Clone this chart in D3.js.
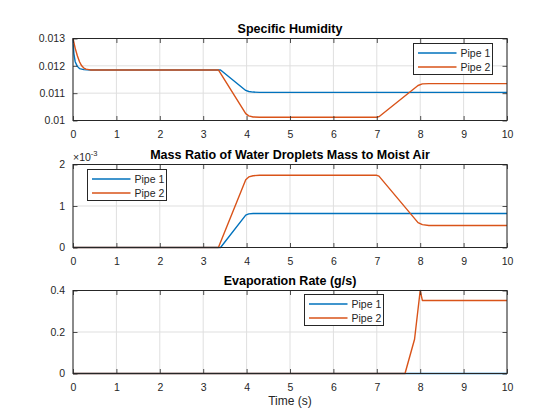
<!DOCTYPE html>
<html>
<head>
<meta charset="utf-8">
<script src="https://cdn.jsdelivr.net/npm/d3@7"></script>
<style>
  body { margin: 0; background: #fff; }
  svg { font-family: "Liberation Sans", Arial, Helvetica, sans-serif; }
</style>
</head>
<body>
<svg id="fig" width="560" height="420"></svg>
<script>
// Series names
var seriesNames = ["Pipe 1", "Pipe 2"];

// Specific humidity
var tHum1 = [0, 0.02, 0.05, 0.1, 0.15, 0.25, 0.4, 3.4, 3.98, 4.05, 4.15, 4.3, 10];
var hum1 = [0.013, 0.01245, 0.01215, 0.01198, 0.0119, 0.01186, 0.01185, 0.01185, 0.0111, 0.01106, 0.01104, 0.01103, 0.01103];
var tHum2 = [0, 0.05, 0.1, 0.15, 0.2, 0.25, 0.3, 0.4, 3.35, 3.98, 4.05, 4.15, 4.3, 7.0, 7.05, 7.95, 8.05, 8.2, 10];
var hum2 = [0.013, 0.01265, 0.01237, 0.01215, 0.012, 0.01192, 0.01188, 0.01185, 0.01185, 0.01025, 0.01017, 0.01013, 0.01012, 0.01012, 0.01014, 0.01128, 0.01134, 0.01135, 0.01135];

// Mass ratio of water droplets
var tMr1 = [0, 3.4, 3.98, 4.05, 4.15, 10];
var mr1 = [0, 0, 0.00078, 0.00081, 0.00082, 0.00082];
var tMr2 = [0, 3.35, 3.98, 4.05, 4.15, 4.3, 7.0, 7.05, 7.95, 8.05, 8.2, 10];
var mr2 = [0, 0, 0.00163, 0.0017, 0.00173, 0.00174, 0.00174, 0.00172, 0.0006, 0.00055, 0.00053, 0.00053];

// Evaporation rate
var tEv1 = [0, 10];
var ev1 = [0, 0];
var tEv2 = [0, 7.65, 7.87, 8.0, 8.05, 10];
var ev2 = [0, 0, 0.165, 0.4, 0.352, 0.352];

// Tick labels
var xTicks = [0, 1, 2, 3, 4, 5, 6, 7, 8, 9, 10];
var humTicks = [0.01, 0.011, 0.012, 0.013];
var mrTicks = [0, 0.001, 0.002];
var evTicks = [0, 0.2, 0.4];

var colors = ["#0072BD", "#D95319"];
var axColor = "#262626";

var svg = d3.select("#fig");
var left = 73, right = 507;

function zip(t, v) {
    return t.map(function (d, i) { return { t: d, v: v[i] }; });
}

function drawPanel(p) {
    var g = svg.append("g");
    var x = d3.scaleLinear().domain([0, 10]).range([left, right]);
    var y = d3.scaleLinear().domain(p.domain).range([p.bottom, p.top]);

    // grid
    g.selectAll(".gx").data(xTicks).enter().append("line")
        .attr("x1", function (d) { return x(d); }).attr("x2", function (d) { return x(d); })
        .attr("y1", p.top).attr("y2", p.bottom)
        .attr("stroke", "#dfdfdf").attr("stroke-width", 1);
    g.selectAll(".gy").data(p.ticks).enter().append("line")
        .attr("x1", left).attr("x2", right)
        .attr("y1", function (d) { return y(d); }).attr("y2", function (d) { return y(d); })
        .attr("stroke", "#dfdfdf").attr("stroke-width", 1);

    // lines
    var line = d3.line()
        .x(function (d) { return x(d.t); })
        .y(function (d) { return y(d.v); });
    p.series.forEach(function (s, i) {
        g.append("path")
            .datum(s)
            .attr("d", line)
            .attr("fill", "none")
            .attr("stroke", colors[i])
            .attr("stroke-width", 1.4)
            .attr("stroke-linejoin", "round");
    });

    // axes (ticks inside, box on)
    var tl = 4.5;
    var fmtY = p.fmt;
    g.append("g").attr("transform", "translate(0," + p.bottom + ")")
        .call(d3.axisBottom(x).tickValues(xTicks).tickSizeInner(-tl).tickSizeOuter(0).tickPadding(6 + tl).tickFormat(d3.format("d")));
    g.append("g").attr("transform", "translate(0," + p.top + ")")
        .call(d3.axisTop(x).tickValues(xTicks).tickSizeInner(-tl).tickSizeOuter(0).tickFormat(""));
    g.append("g").attr("transform", "translate(" + left + ",0)")
        .call(d3.axisLeft(y).tickValues(p.ticks).tickSizeInner(-tl).tickSizeOuter(0).tickPadding(3.5 + tl).tickFormat(fmtY));
    g.append("g").attr("transform", "translate(" + right + ",0)")
        .call(d3.axisRight(y).tickValues(p.ticks).tickSizeInner(-tl).tickSizeOuter(0).tickFormat(""));
    g.selectAll(".domain").remove();
    g.selectAll(".tick line").attr("stroke", axColor).attr("stroke-width", 0.8);
    g.selectAll(".tick text").attr("fill", axColor).attr("font-size", 10.5)
        .attr("font-family", "Liberation Sans, Arial, sans-serif");

    g.append("rect")
        .attr("x", left).attr("y", p.top)
        .attr("width", right - left).attr("height", p.bottom - p.top)
        .attr("fill", "none").attr("stroke", axColor).attr("stroke-width", 1);

    // title
    g.append("text")
        .attr("x", (left + right) / 2).attr("y", p.top - 6)
        .attr("text-anchor", "middle")
        .attr("font-size", 12.5).attr("font-weight", "bold")
        .attr("fill", "#000")
        .text(p.title);

    // legend
    var lg = g.append("g").attr("transform", "translate(" + p.legend[0] + "," + p.legend[1] + ")");
    lg.append("rect").attr("width", 79).attr("height", 31)
        .attr("fill", "#fff").attr("stroke", axColor).attr("stroke-width", 1);
    seriesNames.forEach(function (n, i) {
        var yy = 9.5 + i * 14;
        lg.append("line").attr("x1", 4.5).attr("x2", 43).attr("y1", yy).attr("y2", yy)
            .attr("stroke", colors[i]).attr("stroke-width", 1.4);
        lg.append("text").attr("x", 47).attr("y", yy + 3.6)
            .attr("font-size", 10.5).attr("fill", axColor).text(n);
    });
    return g;
}

drawPanel({
    title: "Specific Humidity",
    top: 38.5, bottom: 120.5,
    domain: [0.01, 0.013], ticks: humTicks,
    fmt: function (d) { return d3.format("")(+d.toFixed(3)); },
    series: [zip(tHum1, hum1), zip(tHum2, hum2)],
    legend: [413.5, 43.5]
});

var g2 = drawPanel({
    title: "Mass Ratio of Water Droplets Mass to Moist Air",
    top: 164.5, bottom: 247.5,
    domain: [0, 0.002], ticks: mrTicks,
    fmt: function (d) { return Math.round(d * 1000); },
    series: [zip(tMr1, mr1), zip(tMr2, mr2)],
    legend: [87.5, 169.5]
});
// exponent label
var ex = g2.append("text").attr("x", 73).attr("y", 160.5)
    .attr("font-size", 10.5).attr("fill", axColor);
ex.append("tspan").text("\u00d710");
ex.append("tspan").attr("dy", -5).attr("font-size", 7.5).text("-3");

drawPanel({
    title: "Evaporation Rate (g/s)",
    top: 290.5, bottom: 373.5,
    domain: [0, 0.4], ticks: evTicks,
    fmt: function (d) { return +d.toFixed(1); },
    series: [zip(tEv1, ev1), zip(tEv2, ev2)],
    legend: [304.5, 294.5]
});

svg.append("text")
    .attr("x", (left + right) / 2).attr("y", 405)
    .attr("text-anchor", "middle")
    .attr("font-size", 12).attr("fill", axColor)
    .text("Time (s)");
</script>
</body>
</html>
